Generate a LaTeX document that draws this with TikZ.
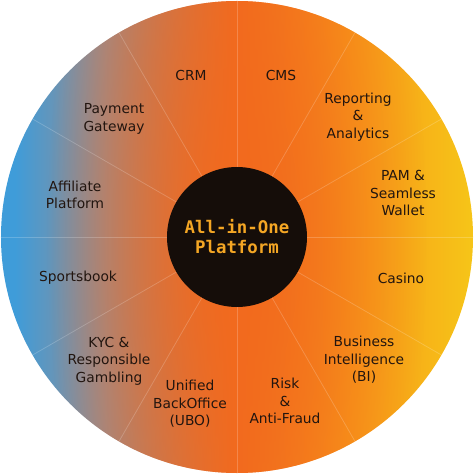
\documentclass[tikz,border=0pt]{standalone}
\usepackage{fontspec}
\setmainfont{DejaVu Sans}
\newfontfamily\hubfont{DejaVu Sans Mono}
\usetikzlibrary{fadings}

\definecolor{skyblue}{HTML}{3F9CD9}
\definecolor{dustgrey}{HTML}{9A8C8E}
\definecolor{rustbrown}{HTML}{C27A58}
\definecolor{flameorange}{HTML}{F26A1E}
\definecolor{amber}{HTML}{F89A18}
\definecolor{sunyellow}{HTML}{F6C518}
\definecolor{hubblack}{HTML}{150D09}
\definecolor{hubgold}{HTML}{F4A624}
\definecolor{inktext}{HTML}{22150F}

\pgfdeclarehorizontalshading{wheelshade}{100bp}{color(0bp)=(skyblue); color(26.5bp)=(skyblue); color(36bp)=(dustgrey); color(43bp)=(rustbrown); color(50bp)=(flameorange); color(62bp)=(amber); color(75bp)=(sunyellow); color(100bp)=(sunyellow)}
\tikzfading[name=glowfade, inner color=transparent!0, outer color=transparent!100]

\tikzset{
  sector/.style={font=\fontsize{7.85}{10}\selectfont, text=inktext, align=center},
  divider/.style={white, opacity=0.2, line width=0.15mm},
  hubtext/.style={font=\hubfont\bfseries\fontsize{9.9}{11.4}\selectfont, text=hubgold, align=center}
}

\begin{document}
\begin{tikzpicture}[x=0.2mm,y=0.2mm]
  \useasboundingbox (-237,-237) rectangle (237,237);
  % coloured disc
  \shade[shading=wheelshade] (0,0) circle (236);
  \begin{scope}
    \clip (0,0) circle (236);
    \fill[flameorange, path fading=glowfade] (0,0) ellipse (190 and 520);
  \end{scope}
  % hub
  \node[circle, fill=hubblack, minimum size=140*0.2mm, inner sep=0pt, hubtext] (hub) at (0,0) {All-in-One\\Platform};
  % dividers
  \foreach \a in {0,30,...,330} {
    \coordinate (rim\a) at (\a:236);
    \draw[divider] (hub.\a) -- (rim\a);
  }
  % sector labels
  \node[sector] (cms) at (44,162) {CMS};
  \node[sector] (crm) at (-46,162) {CRM};
  \node[sector] (payment) at (-123,118) {Payment\\Gateway};
  \node[sector] (affiliate) at (-162,42) {Affiliate\\Platform};
  \node[sector] (sportsbook) at (-159,-41) {Sportsbook};
  \node[sector] (kyc) at (-128,-124) {KYC \&\\Responsible\\Gambling};
  \node[sector] (ubo) at (-47,-167) {Unified\\BackOffice\\(UBO)};
  \node[sector] (risk) at (48,-164) {Risk\\\&\\Anti-Fraud};
  \node[sector] (bi) at (127,-123) {Business\\Intelligence\\(BI)};
  \node[sector] (casino) at (164,-41) {Casino};
  \node[sector] (pam) at (166,44) {PAM \&\\Seamless\\Wallet};
  \node[sector] (reporting) at (121,120) {Reporting\\\&\\Analytics};
\end{tikzpicture}
\end{document}
